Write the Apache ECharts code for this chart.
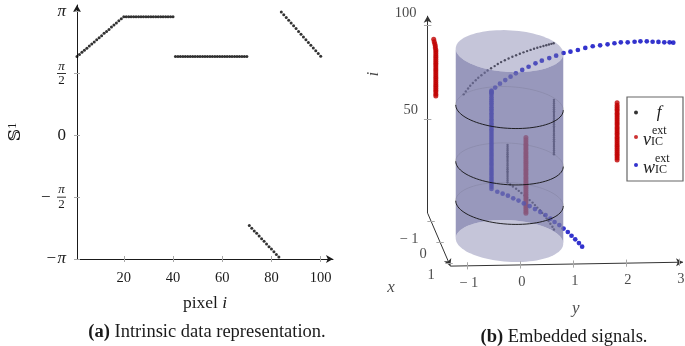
<!DOCTYPE html>
<html><head><meta charset="utf-8">
<style>html,body{margin:0;padding:0;background:#fff}#c{width:685px;height:346px}</style>
<script src="https://cdn.jsdelivr.net/npm/echarts@6/dist/echarts.min.js"></script>
</head><body><div id="c"></div>
<script>
// ---- data ----
const phase = [2.00,2.05,2.11,2.16,2.21,2.27,2.32,2.37,2.43,2.48,2.53,2.59,2.64,2.69,2.75,2.80,2.85,2.91,2.96,3.01,
 3.01,3.01,3.01,3.01,3.01,3.01,3.01,3.01,3.01,3.01,3.01,3.01,3.01,3.01,3.01,3.01,3.01,3.01,3.01,3.01,
 2.00,2.00,2.00,2.00,2.00,2.00,2.00,2.00,2.00,2.00,2.00,2.00,2.00,2.00,2.00,2.00,2.00,2.00,2.00,2.00,
 2.00,2.00,2.00,2.00,2.00,2.00,2.00,2.00,2.00,2.00,
 -2.29,-2.36,-2.43,-2.49,-2.56,-2.63,-2.69,-2.76,-2.83,-2.89,-2.96,-3.03,-3.09,
 3.13,3.06,2.99,2.92,2.85,2.78,2.71,2.64,2.57,2.50,2.43,2.36,2.29,2.22,2.15,2.08,2.01];
// w_IC^ext in the picture plane: horizontal position (y units) and height (i units)
const wPlaneY = [1.37,1.31,1.24,1.17,1.10,1.02,0.94,0.85,0.77,0.68,0.58,0.48,0.38,0.27,0.17,0.07,-0.03,-0.13,-0.23,-0.34,
 -0.34,-0.34,-0.34,-0.34,-0.34,-0.34,-0.34,-0.34,-0.34,-0.34,-0.34,-0.34,-0.34,-0.34,-0.34,-0.34,-0.34,-0.34,-0.34,-0.34,
 -0.34,-0.34,-0.34,-0.34,-0.34,-0.34,-0.34,-0.34,-0.34,-0.34,-0.34,-0.34,-0.34,-0.34,-0.34,-0.34,-0.34,-0.34,-0.34,-0.34,
 -0.34,-0.34,-0.34,-0.34,-0.34,-0.34,-0.34,-0.34,-0.34,-0.34,-0.34,
 -0.27,-0.18,-0.08,0.02,0.12,0.24,0.36,0.49,0.61,0.75,0.88,1.02,1.15,1.29,1.43,1.57,1.71,1.85,1.98,2.10,2.23,2.36,2.47,2.59,2.70,2.81,2.92,3.02,3.09];
const wPlaneI = [-3.0,-1.1,0.9,2.8,4.8,6.6,8.5,10.1,11.9,13.8,15.4,17.0,18.6,20.0,21.5,22.7,24.1,25.2,26.2,27.7,
 28.8,29.9,30.9,32.0,33.0,34.1,35.2,36.2,37.3,38.3,39.4,40.5,41.5,42.6,43.6,44.7,45.8,46.8,47.9,48.9,
 50.0,51.1,52.1,53.2,54.2,55.3,56.4,57.4,58.5,59.5,60.6,61.7,62.7,63.8,64.8,65.9,67.0,68.0,69.1,70.1,
 71.2,72.3,73.3,74.4,75.4,76.5,77.6,78.6,79.0,79.5,80.0,
 81.6,83.7,85.6,87.4,89.2,91.0,92.7,94.5,95.9,97.3,98.6,100.0,100.7,101.6,102.7,103.6,104.1,104.6,105.2,105.7,105.7,106.0,106.2,106.2,106.0,105.9,105.7,105.7,105.5];
// v_IC^ext, three vertical pieces in the picture plane
const vPlaneY = [0.31,0.31,0.31,0.31,0.31,0.31,0.31,0.31,0.31,0.31,0.31,0.31,0.31,0.31,0.31,0.31,0.31,0.31,0.31,0.31,
 0.31,0.31,0.31,0.31,0.31,0.31,0.31,0.31,0.31,0.31,0.31,0.31,0.31,0.31,0.31,0.31,0.31,0.31,0.31,0.31,
 2.03,2.03,2.03,2.03,2.03,2.03,2.03,2.03,2.03,2.03,2.03,2.03,2.03,2.03,2.03,2.03,2.03,2.03,2.03,2.03,2.03,2.03,2.03,2.03,2.03,2.03,2.03,2.03,2.03,2.03,
 -1.39,-1.39,-1.39,-1.39,-1.39,-1.39,-1.39,-1.39,-1.39,-1.39,-1.39,-1.39,-1.39,-1.39,-1.39,-1.39,-1.39,-1.39,-1.39,-1.39,-1.39,-1.39,-1.39,-1.39,-1.39,-1.40,-1.40,-1.41,-1.42,-1.43];
const vPlaneI = [14.7,15.7,16.7,17.8,18.8,19.8,20.9,21.9,22.9,23.9,24.9,25.9,27.0,28.0,29.0,30.1,31.1,32.1,33.1,34.1,
 35.2,36.2,37.2,38.2,39.3,40.3,41.3,42.3,43.3,44.4,45.4,46.4,47.4,48.5,49.5,50.5,51.5,52.6,53.8,55.0,
 43.1,44.1,45.2,46.2,47.2,48.3,49.3,50.4,51.4,52.4,53.5,54.5,55.5,56.6,57.6,58.7,59.7,60.7,61.8,62.8,63.9,64.9,65.9,67.0,68.0,69.1,70.1,71.1,72.2,73.6,
 77.1,78.1,79.2,80.2,81.2,82.3,83.3,84.3,85.4,86.4,87.4,88.4,89.5,90.5,91.5,92.5,93.6,94.6,95.6,96.7,97.7,98.7,99.8,100.8,101.8,102.8,103.8,104.9,106.0,107.3];
const pixelTicks = [20,40,60,80,100];
const PI = Math.PI;
const phaseTicks = [-PI,-PI/2,0,PI/2,PI];
const xTicks3d = [-1,0,1], yTicks3d = [-1,0,1,2,3], iTicks3d = [50,100];
const ringLevels = [20,41,71];
const cylinderHeight = 101;

// ---- oblique projection of (x, y, i) on the picture plane ----
const SHX = 9/53, SHI = 21/1.88, SYI = 0.9/1.88;
const proj = (x,y,i) => [y + x*SHX, i - x*SHI + y*SYI];
const corner = {x:-1.38, y:-1.31, xEnd:1.14, yEnd:3.08, iEnd:105};
const fPts = phase.map((p,k)=>proj(Math.cos(p),Math.sin(p),k+1));
const arcDeg = (from,to,i)=>{const a=[];for(let d=from;d<=to+.01;d+=4){const t=d*PI/180;a.push(proj(Math.cos(t),Math.sin(t),i));}return a;};
const T0 = Math.atan2(53,9)*180/PI;           // silhouette angle
const front = i=>arcDeg(T0-180,T0,i), back = i=>arcDeg(T0,T0+180,i);

const SERIF = '"Liberation Serif","DejaVu Serif",serif';
const polyRender = (style,getPts,closed)=>(params,api)=>{
  const pts = getPts(params.dataIndex).map(p=>api.coord(p));
  return {type: closed?'polygon':'polyline',shape:{points:pts},style:style};
};
const ink = '#1a1a1a', tickGray = '#a8a8a8';
const bodyFill = 'rgba(116,116,164,0.74)', capFill = 'rgba(116,116,164,0.42)';

const fracRich = {
  n:{fontFamily:SERIF,fontSize:13,fontStyle:'italic',width:9,align:'center',lineHeight:11,color:ink},
  d:{fontFamily:SERIF,fontSize:13,width:9,align:'center',lineHeight:11,color:ink},
  bar:{width:9,height:0.9,backgroundColor:ink,lineHeight:3},
  sp:{width:16,fontSize:12},
  mi:{fontFamily:SERIF,fontSize:17,width:16,align:'left',lineHeight:3,color:ink},
  big:{fontFamily:SERIF,fontSize:17,color:ink},
  pi:{fontFamily:SERIF,fontSize:17,fontStyle:'italic',color:ink}
};
const phaseLabel = v=>{
  const a=Math.round(v/(PI/2));
  if(a===0) return '{big|0}';
  if(a===2) return '{pi|π}';
  if(a===-2) return '{big|−\u200a}{pi|π}';
  if(a===1) return '{n|π}\n{bar|}\n{d|2}';
  return '{sp|}{n|π}\n{mi|−}{bar|}\n{sp|}{d|2}';
};

const baseAxis = {axisLine:{show:true,lineStyle:{color:ink,width:1},symbol:['none','arrow'],symbolSize:[6,7],onZero:false},splitLine:{show:false}};

// labels placed on the projected tick marks
const labelPoints = [];
const addLabel=(p,text,ox,oy,opt)=>labelPoints.push({value:p,label:Object.assign({show:true,formatter:text,offset:[ox,oy],position:'inside',fontFamily:SERIF,fontSize:14.5,color:ink},opt||{})});
const y0 = corner.y, xE = corner.xEnd;
yTicks3d.forEach(v=>addLabel(proj(xE,v,0),(v<0?'− ':'')+Math.abs(v),2,17));
const xOff={'-1':[-22,18],'0':[-17,12],'1':[-18,12]};
xTicks3d.forEach(v=>addLabel(proj(v,y0,0),(v<0?'− ':'')+Math.abs(v),xOff[v][0],xOff[v][1]));
const iOff={50:[-17,-9],100:[-22,-12]};
iTicks3d.forEach(v=>addLabel(proj(corner.x,y0,v),String(v),iOff[v][0],iOff[v][1]));
addLabel(proj(1,y0,0),'x',-58,24,{fontStyle:'italic',fontSize:17});
addLabel(proj(xE,1,0),'y',3,44,{fontStyle:'italic',fontSize:17});
addLabel(proj(corner.x,y0,74),'i',0,-54,{fontStyle:'italic',fontSize:17,rotate:90});

const tickLines=[];
yTicks3d.forEach(v=>{const p=proj(xE,v,0);tickLines.push([{coord:[p[0],p[1]+1.9]},{coord:[p[0],p[1]-1.9]}]);});
xTicks3d.forEach(v=>{const p=proj(v,y0,0);tickLines.push([{coord:[p[0]-.07,p[1]]},{coord:[p[0]+.07,p[1]]}]);});
iTicks3d.forEach(v=>{const p=proj(corner.x,y0,v);tickLines.push([{coord:[p[0]-.07,p[1]]},{coord:[p[0]+.07,p[1]]}]);});
const axisLines=[
  [{coord:proj(corner.x,y0,0)},{coord:proj(corner.x,y0,corner.iEnd)}],
  [{coord:proj(corner.x,y0,0)},{coord:proj(xE,y0,0)}],
  [{coord:proj(xE,y0,0)},{coord:proj(xE,corner.yEnd,0)}]
];
const onPlane={xAxisIndex:2,yAxisIndex:2};

const legendRich={
  m:{fontFamily:SERIF,fontStyle:'italic',fontSize:18,lineHeight:12,color:ink},
  sup:{fontFamily:SERIF,fontSize:12,lineHeight:6,color:ink},
  sub:{fontFamily:SERIF,fontSize:12,lineHeight:12,color:ink,padding:[3,0,0,0]},
  spv:{width:9,fontSize:11,lineHeight:6},
  spw:{width:12,fontSize:11,lineHeight:6},
  f:{fontFamily:SERIF,fontStyle:'italic',fontSize:17,width:32,align:'center',lineHeight:20,color:ink}
};
const legendNames={'f':'{f|f}','v':'{spv|}{sup|ext}\n{m|v}{sub|IC}','w':'{spw|}{sup|ext}\n{m|w}{sub|IC}'};

const chart=echarts.init(document.getElementById('c'),null,{renderer:'canvas'});
const capRich={b:{fontFamily:SERIF,fontSize:18.5,fontWeight:'bold',color:ink}};
chart.setOption({
  animation:false,
  backgroundColor:'#fff',
  title:[
    {text:'{b|(a)} Intrinsic data representation.',left:207,textAlign:'center',top:323,padding:0,
     textStyle:{fontFamily:SERIF,fontSize:18.5,fontWeight:'normal',color:ink,rich:capRich}},
    {text:'{b|(b)} Embedded signals.',left:564,textAlign:'center',top:328,padding:0,
     textStyle:{fontFamily:SERIF,fontSize:18.5,fontWeight:'normal',color:ink,rich:capRich}}
  ],
  legend:{show:true,orient:'vertical',left:627,top:97,padding:[7,8,4,7],itemWidth:4,itemHeight:4,itemGap:4,icon:'circle',
    borderColor:'#666',borderWidth:1.2,backgroundColor:'#fff',selectedMode:false,
    data:['f','v','w'],formatter:n=>legendNames[n],textStyle:{rich:legendRich,fontFamily:SERIF}},
  grid:[
    {left:77,top:5,width:256,height:254,containLabel:false,outerBoundsMode:'none'},
    {left:370,top:0,width:315,height:346,containLabel:false,outerBoundsMode:'none'}
  ],
  xAxis:[
    Object.assign({},baseAxis,{type:'value',gridIndex:0,min:1,max:105,position:'bottom',
      axisTick:{show:true,length:3,lineStyle:{color:tickGray},customValues:pixelTicks},
      axisLabel:{show:true,margin:12,fontFamily:SERIF,fontSize:14.5,color:ink,customValues:pixelTicks},
      name:'pixel {it|i}',nameLocation:'middle',nameGap:35,
      nameTextStyle:{fontFamily:SERIF,fontSize:17.5,color:ink,rich:{it:{fontFamily:SERIF,fontSize:17.5,fontStyle:'italic',color:ink}}}}),
    {type:'value',gridIndex:0,min:1,max:105,position:'bottom',axisLine:{show:false,onZero:false},axisLabel:{show:false},splitLine:{show:false},
      axisTick:{show:true,inside:true,length:3,lineStyle:{color:tickGray},customValues:pixelTicks}},
    {type:'value',gridIndex:1,min:-2.632,max:3.311,show:false}
  ],
  yAxis:[
    Object.assign({},baseAxis,{type:'value',gridIndex:0,min:-PI,max:3.31,position:'left',
      axisTick:{show:true,length:3,lineStyle:{color:tickGray},customValues:phaseTicks},
      axisLabel:{show:true,margin:11,customValues:phaseTicks,formatter:phaseLabel,rich:fracRich,align:'right',verticalAlign:'middle'},
      name:'𝕊{s|1}',nameLocation:'middle',nameGap:53,nameRotate:90,
      nameTextStyle:{fontFamily:'"DejaVu Serif","DejaVu Sans",serif',fontSize:17,color:ink,rich:{s:{fontFamily:SERIF,fontSize:12,color:ink,verticalAlign:'top',lineHeight:16}}}}),
    {type:'value',gridIndex:0,min:-PI,max:3.31,position:'left',axisLine:{show:false,onZero:false},axisLabel:{show:false},splitLine:{show:false},
      axisTick:{show:true,inside:true,length:3,lineStyle:{color:tickGray},customValues:phaseTicks}},
    {type:'value',gridIndex:1,min:-55.85,max:128.2,show:false}
  ],
  series:[
    {name:'phase',type:'scatter',xAxisIndex:0,yAxisIndex:0,symbolSize:3,z:3,silent:true,clip:false,
      itemStyle:{color:'#000'},data:phase.map((p,k)=>[k+1,p])},
    // back half of the rings, under the cylinder
    Object.assign({type:'custom',name:'rb',coordinateSystem:'cartesian2d',z:1,silent:true,clip:false,
      data:ringLevels.map(v=>[v]),renderItem:polyRender({fill:null,stroke:'#c8c8b8',lineWidth:0.8},k=>back(ringLevels[k]),false)},onPlane),
    // signals
    Object.assign({type:'scatter',name:'f',symbolSize:2.4,z:2,silent:true,clip:false,itemStyle:{color:'#000'},data:fPts},onPlane),
    Object.assign({type:'scatter',name:'v',symbolSize:5,z:2,silent:true,clip:false,itemStyle:{color:'#c00000'},
      data:vPlaneY.map((h,k)=>[h,vPlaneI[k]])},onPlane),
    Object.assign({type:'scatter',name:'w',symbolSize:4.7,z:2,silent:true,clip:false,itemStyle:{color:'#0000c0'},
      data:wPlaneY.map((h,k)=>[h,wPlaneI[k]])},onPlane),
    // translucent cylinder body and caps
    Object.assign({type:'custom',name:'body',coordinateSystem:'cartesian2d',z:3,silent:true,clip:false,data:[[0]],
      renderItem:polyRender({fill:bodyFill},()=>front(cylinderHeight).concat(back(0)),true)},onPlane),
    Object.assign({type:'custom',name:'caps',coordinateSystem:'cartesian2d',z:3,silent:true,clip:false,data:[[0],[1]],
      renderItem:polyRender({fill:capFill},k=>{const h=k?cylinderHeight:0;return front(h).concat(back(h));},true)},onPlane),
    // front half of the rings
    Object.assign({type:'custom',name:'rf',coordinateSystem:'cartesian2d',z:4,silent:true,clip:false,
      data:ringLevels.map(v=>[v]),renderItem:polyRender({fill:null,stroke:'#111',lineWidth:0.9},k=>front(ringLevels[k]),false)},onPlane),
    // 3-D axes
    Object.assign({type:'scatter',name:'axes',data:[],z:5,silent:true,
      markLine:{silent:true,animation:false,symbol:['none','arrow'],symbolSize:[6,7],label:{show:false},emphasis:{disabled:true},
        lineStyle:{color:'#333',width:1,type:'solid'},data:axisLines}},onPlane),
    Object.assign({type:'scatter',name:'ticks',data:[],z:5,silent:true,
      markLine:{silent:true,animation:false,symbol:'none',label:{show:false},emphasis:{disabled:true},
        lineStyle:{color:tickGray,width:1,type:'solid'},data:tickLines}},onPlane),
    Object.assign({type:'scatter',name:'labels',symbolSize:0,z:6,silent:true,clip:false,data:labelPoints},onPlane)
  ]
});
</script></body></html>
